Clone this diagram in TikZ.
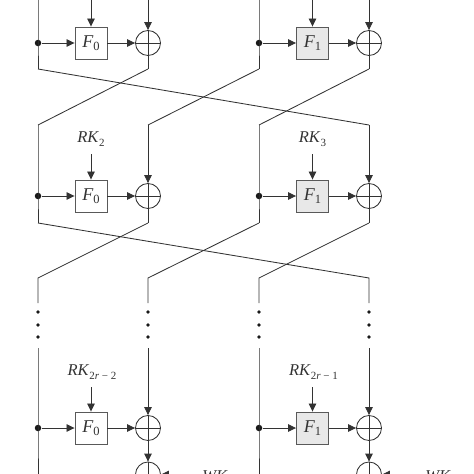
\documentclass[tikz,border=0pt]{standalone}
\usepackage{fontspec}
\setmainfont{Liberation Serif}
\usetikzlibrary{arrows.meta}
\newcommand\mysub[1]{\raisebox{-0.45ex}{\fontsize{11}{12}\selectfont #1}}
\newcommand\fsub[1]{\raisebox{-0.4ex}{\fontsize{12.5}{13}\selectfont #1}}
\begin{document}
\begin{tikzpicture}[x=1pt,y=-1pt, line width=0.85pt, color=black!80,
  fbox/.style={draw=black!65, line width=0.9pt, minimum width=32pt, minimum height=32pt, inner sep=0pt, font=\fontsize{18}{20}\selectfont},
  fa/.style={fbox, fill=white},
  fb/.style={fbox, fill=black!9},
  xor/.style={circle, draw=black!80, minimum size=25pt, inner sep=0pt,
    path picture={\draw[black!80] (path picture bounding box.north) -- (path picture bounding box.south)
      (path picture bounding box.west) -- (path picture bounding box.east);}},
  dotn/.style={circle, fill=black!90, inner sep=0pt, minimum size=6.5pt},
  sdot/.style={circle, fill=black!90, inner sep=0pt, minimum size=3.8pt},
  arr/.style={-{Triangle[length=8pt,width=7.5pt]}},
  lbl/.style={font=\fontsize{16.5}{18}\selectfont, inner sep=0pt}]
\useasboundingbox (0,0) rectangle (474,474);
\clip (0,0) rectangle (474,474);

% ---------- round 1 ----------
\node[dotn] (d1a) at (38,43) {};
\node[fa] (f1a) at (91,43) {\textit{F}\fsub{0}};
\node[xor] (x1a) at (148,43) {};
\node[dotn] (d1b) at (259,43) {};
\node[fb] (f1b) at (312.5,43) {\textit{F}\fsub{1}};
\node[xor] (x1b) at (369,43) {};
\coordinate (t1a) at (38,-5);
\coordinate (k1a) at (91,-5);
\coordinate (u1a) at (148,-5);
\coordinate (t1b) at (259,-5);
\coordinate (k1b) at (312.5,-5);
\coordinate (u1b) at (369,-5);
\coordinate (b1a) at (38,69);
\coordinate (c1a) at (148,69);
\coordinate (b1b) at (259,69);
\coordinate (c1b) at (369,69);

\draw (t1a) -- (d1a.center) -- (b1a);
\draw (t1b) -- (d1b.center) -- (b1b);
\draw[arr] (d1a) -- (f1a);
\draw[arr] (d1b) -- (f1b);
\draw[arr] (f1a) -- (x1a);
\draw[arr] (f1b) -- (x1b);
\draw[arr] (k1a) -- (f1a);
\draw[arr] (k1b) -- (f1b);
\draw[arr] (u1a) -- (x1a);
\draw[arr] (u1b) -- (x1b);
\draw (x1a) -- (c1a);
\draw (x1b) -- (c1b);

% ---------- round 2 ----------
\coordinate (t2a) at (38,125);
\coordinate (u2a) at (148,125);
\coordinate (t2b) at (259,125);
\coordinate (u2b) at (369,125);
\draw (b1a) -- (u2b);
\draw (c1a) -- (t2a);
\draw (b1b) -- (u2a);
\draw (c1b) -- (t2b);

\node[dotn] (d2a) at (38,196) {};
\node[fa] (f2a) at (91,196) {\textit{F}\fsub{0}};
\node[xor] (x2a) at (148,196) {};
\node[dotn] (d2b) at (259,196) {};
\node[fb] (f2b) at (312.5,196) {\textit{F}\fsub{1}};
\node[xor] (x2b) at (369,196) {};
\node[lbl] (l2a) at (91,139) {\textit{RK}\mysub{2}};
\node[lbl] (l2b) at (312.5,139) {\textit{RK}\mysub{3}};
\coordinate (k2a) at (91,154);
\coordinate (k2b) at (312.5,154);
\coordinate (b2a) at (38,223);
\coordinate (c2a) at (148,223);
\coordinate (b2b) at (259,223);
\coordinate (c2b) at (369,223);

\draw (t2a) -- (d2a.center) -- (b2a);
\draw (t2b) -- (d2b.center) -- (b2b);
\draw[arr] (d2a) -- (f2a);
\draw[arr] (d2b) -- (f2b);
\draw[arr] (f2a) -- (x2a);
\draw[arr] (f2b) -- (x2b);
\draw[arr] (k2a) -- (f2a);
\draw[arr] (k2b) -- (f2b);
\draw[arr] (u2a) -- (x2a);
\draw[arr] (u2b) -- (x2b);
\draw (x2a) -- (c2a);
\draw (x2b) -- (c2b);

% ---------- crossing into the dots ----------
\coordinate (t3a) at (38,278);
\coordinate (u3a) at (148,278);
\coordinate (t3b) at (259,278);
\coordinate (u3b) at (369,278);
\coordinate (e3a) at (38,303);
\coordinate (v3a) at (148,303);
\coordinate (e3b) at (259,303);
\coordinate (v3b) at (369,303);
\draw (b2a) -- (u3b) -- (v3b);
\draw (c2a) -- (t3a) -- (e3a);
\draw (b2b) -- (u3a) -- (v3a);
\draw (c2b) -- (t3b) -- (e3b);

\foreach \xx/\nm in {38/p, 148/q, 259/r, 369/s}{
  \foreach \yy/\k in {312/1, 325/2, 337/3}{
    \node[sdot] (dot\nm\k) at (\xx,\yy) {};
  }
}

% ---------- last round ----------
\coordinate (tra) at (38,348);
\coordinate (ura) at (148,348);
\coordinate (trb) at (259,348);
\coordinate (urb) at (369,348);
\node[dotn] (dra) at (38,428) {};
\node[fa] (fra) at (91,428) {\textit{F}\fsub{0}};
\node[xor] (xra) at (148,428) {};
\node[dotn] (drb) at (259,428) {};
\node[fb] (frb) at (312.5,428) {\textit{F}\fsub{1}};
\node[xor] (xrb) at (369,428) {};
\node[lbl] (lra) at (92,372) {\textit{RK}\mysub{2\textit{r} − 2}};
\node[lbl] (lrb) at (313.5,372) {\textit{RK}\mysub{2\textit{r} − 1}};
\coordinate (kra) at (91,387);
\coordinate (krb) at (312.5,387);
\node[xor] (wxa) at (148,474.5) {};
\node[xor] (wxb) at (369,474.5) {};
\node[lbl, anchor=west] (wka) at (202,476) {\textit{WK}};
\node[lbl, anchor=west] (wkb) at (425,476) {\textit{WK}};
\coordinate (ea) at (38,490);
\coordinate (eb) at (259,490);

\draw (tra) -- (dra.center) -- (ea);
\draw (trb) -- (drb.center) -- (eb);
\draw[arr] (dra) -- (fra);
\draw[arr] (drb) -- (frb);
\draw[arr] (fra) -- (xra);
\draw[arr] (frb) -- (xrb);
\draw[arr] (kra) -- (fra);
\draw[arr] (krb) -- (frb);
\draw[arr] (ura) -- (xra);
\draw[arr] (urb) -- (xrb);
\draw[arr] (xra) -- (wxa);
\draw[arr] (xrb) -- (wxb);
\draw[arr] (wka.west |- wxa) -- (wxa);
\draw[arr] (wkb.west |- wxb) -- (wxb);
\end{tikzpicture}
\end{document}
